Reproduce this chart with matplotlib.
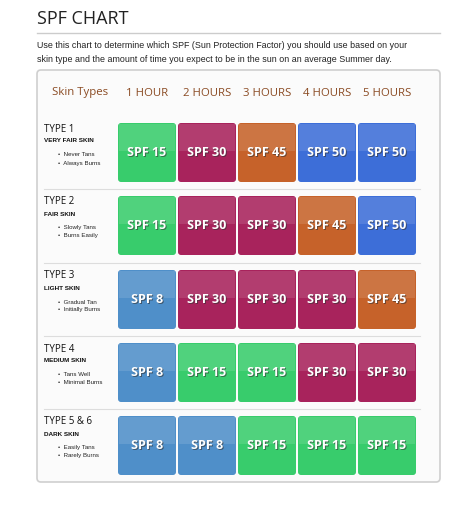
import matplotlib.pyplot as plt
from matplotlib.patches import FancyBboxPatch, Rectangle

# data
hours = ['1 HOUR', '2 HOURS', '3 HOURS', '4 HOURS', '5 HOURS']
types = ['TYPE 1', 'TYPE 2', 'TYPE 3', 'TYPE 4', 'TYPE 5 & 6']
skins = ['VERY FAIR SKIN', 'FAIR SKIN', 'LIGHT SKIN', 'MEDIUM SKIN', 'DARK SKIN']
notes = [['Never Tans', 'Always Burns'], ['Slowly Tans', 'Burns Easily'],
         ['Gradual Tan', 'Initially Burns'], ['Tans Well', 'Minimal Burns'],
         ['Easily Tans', 'Rarely Burns']]
spf = [[15, 30, 45, 50, 50],
       [15, 30, 30, 45, 50],
       [8, 30, 30, 30, 45],
       [8, 15, 15, 30, 30],
       [8, 8, 15, 15, 15]]

colors = {8: '#4f8fc9', 15: '#38cc6c', 30: '#a8235c', 45: '#c6622a', 50: '#3d6ed8'}
brown = '#8a4a22'

fig = plt.figure(figsize=(4.74, 5.07), dpi=100)
ax = fig.add_axes([0, 0, 1, 1])
ax.set_xlim(0, 474)
ax.set_ylim(507, 0)
ax.axis('off')

ax.text(37, 19, 'SPF CHART', fontsize=13, color='#222222', va='center', family='Open Sans')
ax.plot([37, 440], [33, 33], color='#cccccc', lw=1)
ax.text(37, 45, 'Use this chart to determine which SPF (Sun Protection Factor) you should use based on your',
        fontsize=6.4, va='center', color='#222222', family='Liberation Sans')
ax.text(37, 59, 'skin type and the amount of time you expect to be in the sun on an average Summer day.',
        fontsize=6.4, va='center', color='#222222', family='Liberation Sans')

ax.add_patch(FancyBboxPatch((37, 70), 403, 412, boxstyle='round,pad=0,rounding_size=4',
                            fc='#fbfbfb', ec='#cfcfcf', lw=1.2))

ax.text(80, 93, 'Skin Types', fontsize=8.2, color=brown, ha='center', va='center', family='Open Sans')
x0, cw, gap = 118, 58, 2
for j, h in enumerate(hours):
    ax.text(x0 + j * (cw + gap) + cw / 2, 93, h, fontsize=8.2, color=brown,
            ha='center', va='center', family='Open Sans')

row_top = [123, 196, 270, 343, 416]
rh = 59
for i, top in enumerate(row_top):
    if i > 0:
        ax.plot([44, 420], [top - 7, top - 7], color='#dddddd', lw=0.8)
    ax.text(44, top + 6, types[i], fontsize=7, va='center', color='#111111', family='Open Sans')
    ax.text(44, top + 18, skins[i], fontsize=4.6, va='center', color='#111111', weight='bold',
            family='Liberation Sans')
    for k, n in enumerate(notes[i]):
        ax.text(58, top + 32 + k * 8, '\u2022  ' + n, fontsize=4.4, va='center', color='#222222',
                family='Liberation Sans')
    for j, v in enumerate(spf[i]):
        x = x0 + j * (cw + gap)
        c = colors[v]
        ax.add_patch(FancyBboxPatch((x, top), cw, rh, boxstyle='round,pad=0,rounding_size=3',
                                    fc=c, ec='none'))
        ax.add_patch(Rectangle((x + 1, top + 1), cw - 2, rh * 0.45, fc='white', alpha=0.12, ec='none'))
        ax.text(x + cw / 2 + 0.8, top + rh / 2 + 0.8, f'SPF {v}', fontsize=9, weight='bold',
                color='#333333', alpha=0.6, ha='center', va='center', family='Open Sans')
        ax.text(x + cw / 2, top + rh / 2, f'SPF {v}', fontsize=9, weight='bold',
                color='white', ha='center', va='center', family='Open Sans')

fig.savefig('out.png', dpi=100)
